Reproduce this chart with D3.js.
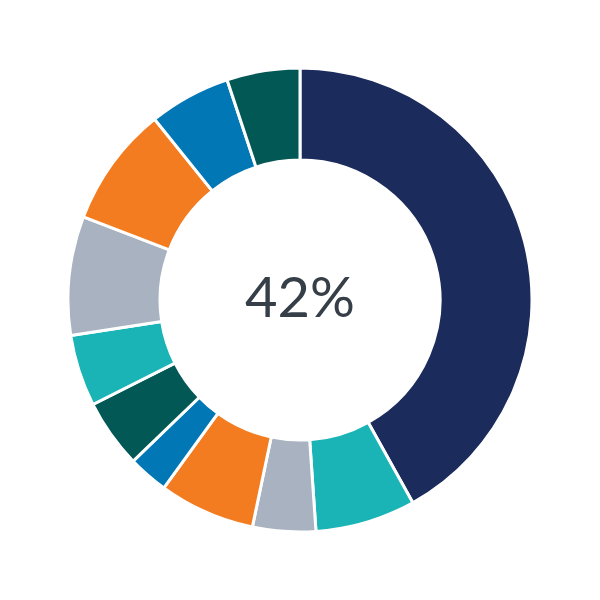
<!DOCTYPE html>
<html>
<head>
<meta charset="utf-8">
<script src="https://cdn.jsdelivr.net/npm/d3@7"></script>
<style>
  body { margin: 0; background: #fff; }
</style>
</head>
<body>
<script>
// slice values (percent), clockwise from 12 o'clock
var labels = ['A', 'B', 'C', 'D', 'E', 'F', 'G', 'H', 'I', 'J', 'K'];
var values = [42, 7, 4.4, 6.7, 2.8, 4.8, 5, 8.3, 8.4, 5.7, 5.1];
var colors = ['#1b2b5b', '#1bb4b6', '#a8b2c1', '#f37c20', '#0277b5', '#025854',
              '#1bb4b6', '#a8b2c1', '#f37c20', '#0277b5', '#025854'];
var centerLabel = '42%';

var width = 600, height = 600;
var outerR = 232, innerR = 140;

var svg = d3.select('body').append('svg').attr('width', width).attr('height', height);
var g = svg.append('g').attr('transform', 'translate(300,300)');

var pie = d3.pie().sort(null).value(function(d) { return d; });
var arc = d3.arc().innerRadius(innerR).outerRadius(outerR);

g.selectAll('path').data(pie(values)).enter().append('path')
  .attr('d', arc)
  .attr('fill', function(d, i) { return colors[i]; })
  .attr('stroke', '#fff')
  .attr('stroke-width', 3);

g.append('text')
  .attr('text-anchor', 'middle')
  .attr('y', 17)
  .attr('font-family', 'Lato, sans-serif')
  .attr('font-size', 56)
  .attr('fill', '#363f48')
  .text(centerLabel);
</script>
</body>
</html>
